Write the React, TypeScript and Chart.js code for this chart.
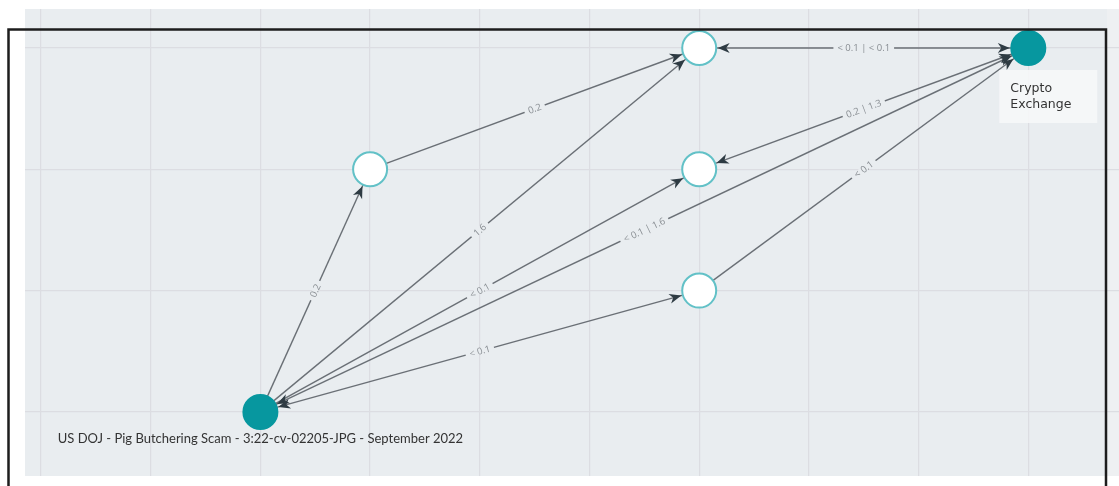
import React, { useEffect, useRef } from "react";
import { Chart, registerables } from "chart.js";

Chart.register(...registerables);

// ---- data ----
const nodeNames = [
  "US DOJ - Pig Butchering Scam - 3:22-cv-02205-JPG - September 2022",
  "",
  "",
  "",
  "",
  "Crypto Exchange",
];
const nodeCol = [2, 3, 6, 6, 6, 9];
const nodeRow = [3, 1, 0, 1, 2, 0];
const nodeFilled = [true, false, false, false, false, true];

const edgeFrom = [0, 1, 0, 0, 0, 0, 2, 5, 4];
const edgeTo = [1, 2, 2, 3, 5, 4, 5, 3, 5];
const edgeLabels = ["0.2", "0.2", "1.6", "< 0.1", "< 0.1 | 1.6", "< 0.1", "< 0.1 | < 0.1", "0.2 | 1.3", "< 0.1"];
const arrowAtFrom = [false, false, false, false, true, true, true, true, false];
const arrowAtTo = [true, true, true, true, true, true, true, true, true];

const gridCols = [0, 1, 2, 3, 4, 5, 6, 7, 8, 9];
const gridRows = [0, 1, 2, 3];

const W = 1119;
const H = 486;
const BG = "#e9edf0";
const TEAL = "#07979f";
const NODE_R = 17;

function drawArrow(ctx: CanvasRenderingContext2D, x: number, y: number, ang: number) {
  ctx.save();
  ctx.translate(x, y);
  ctx.rotate(ang);
  ctx.beginPath();
  ctx.moveTo(0, 0);
  ctx.lineTo(-12, -5);
  ctx.lineTo(-8.5, 0);
  ctx.lineTo(-12, 5);
  ctx.closePath();
  ctx.fillStyle = "#2e3b43";
  ctx.fill();
  ctx.restore();
}

const overlayPlugin = {
  id: "overlay",
  beforeDraw(chart: any) {
    const ctx = chart.ctx as CanvasRenderingContext2D;
    ctx.save();
    ctx.fillStyle = "#ffffff";
    ctx.fillRect(0, 0, W, H);
    ctx.fillStyle = BG;
    ctx.fillRect(25, 9, W - 25, 467);
    ctx.fillStyle = "#eef0f2";
    ctx.fillRect(1107, 9, W - 1107, 467);
    ctx.restore();
  },
  afterDatasetsDraw(chart: any) {
    const ctx = chart.ctx as CanvasRenderingContext2D;
    const xs = chart.scales.x;
    const ys = chart.scales.y;
    const px = (i: number) => xs.getPixelForValue(nodeCol[i]);
    const py = (i: number) => ys.getPixelForValue(nodeRow[i]);
    ctx.save();
    // edge labels
    ctx.font = "9.5px 'Open Sans'";
    ctx.textAlign = "center";
    ctx.textBaseline = "middle";
    for (let e = 0; e < edgeFrom.length; e++) {
      const x1 = px(edgeFrom[e]), y1 = py(edgeFrom[e]);
      const x2 = px(edgeTo[e]), y2 = py(edgeTo[e]);
      const mx = (x1 + x2) / 2, my = (y1 + y2) / 2;
      let a = Math.atan2(y2 - y1, x2 - x1);
      if (a > Math.PI / 2) a -= Math.PI;
      if (a < -Math.PI / 2) a += Math.PI;
      ctx.save();
      ctx.translate(mx, my);
      ctx.rotate(a);
      const w = ctx.measureText(edgeLabels[e]).width;
      ctx.fillStyle = BG;
      ctx.fillRect(-w / 2 - 4, -3, w + 8, 6);
      ctx.fillStyle = "#878c91";
      ctx.fillText(edgeLabels[e], 0, 0.5);
      ctx.restore();
    }
    // arrows
    const rr = NODE_R + 1.5;
    for (let e = 0; e < edgeFrom.length; e++) {
      const x1 = px(edgeFrom[e]), y1 = py(edgeFrom[e]);
      const x2 = px(edgeTo[e]), y2 = py(edgeTo[e]);
      const a = Math.atan2(y2 - y1, x2 - x1);
      if (arrowAtTo[e]) {
        drawArrow(ctx, x2 - Math.cos(a) * rr, y2 - Math.sin(a) * rr, a);
      }
      if (arrowAtFrom[e]) {
        drawArrow(ctx, x1 + Math.cos(a) * rr, y1 + Math.sin(a) * rr, a + Math.PI);
      }
    }
    // node labels
    const s = px(0), sy = py(0);
    ctx.font = "13px Lato";
    ctx.fillStyle = "#333333";
    ctx.textAlign = "center";
    ctx.textBaseline = "middle";
    ctx.fillText(nodeNames[0], s, sy + 27);

    const cx = px(5), cy = py(5);
    ctx.fillStyle = "rgba(246,247,248,0.9)";
    ctx.fillRect(cx - 29, cy + 22, 98, 53);
    ctx.fillStyle = "#333333";
    ctx.font = "12.5px 'DejaVu Sans'";
    ctx.textAlign = "left";
    const parts = nodeNames[5].split(" ");
    ctx.fillText(parts[0], cx - 18, cy + 41);
    ctx.fillText(parts[1], cx - 18, cy + 57);

    // frame
    ctx.strokeStyle = "#1d1d1d";
    ctx.lineWidth = 2.5;
    ctx.beginPath();
    ctx.moveTo(8.5, H + 5);
    ctx.lineTo(8.5, 29.5);
    ctx.lineTo(1106, 29.5);
    ctx.lineTo(1106, H + 5);
    ctx.stroke();
    ctx.restore();
  },
};

export default function App() {
  const ref = useRef<HTMLCanvasElement | null>(null);
  useEffect(() => {
    if (!ref.current) return;
    const edgeSets = edgeFrom.map((f, e) => ({
      type: "line" as const,
      data: [
        { x: nodeCol[f], y: nodeRow[f] },
        { x: nodeCol[edgeTo[e]], y: nodeRow[edgeTo[e]] },
      ],
      borderColor: "rgba(92,98,104,0.9)",
      borderWidth: 1.4,
      pointRadius: 0,
      showLine: true,
      fill: false,
      order: 2,
    }));
    const nodeSet = {
      type: "scatter" as const,
      data: nodeCol.map((c, i) => ({ x: c, y: nodeRow[i] })),
      pointRadius: NODE_R,
      pointBackgroundColor: nodeFilled.map((f) => (f ? TEAL : "#ffffff")),
      pointBorderColor: nodeFilled.map((f) => (f ? TEAL : "#62c1c7")),
      pointBorderWidth: 2,
      order: 0,
    };
    const chart = new Chart(ref.current, {
      type: "scatter",
      data: { datasets: [nodeSet as any, ...edgeSets] },
      options: {
        animation: false,
        responsive: false,
        devicePixelRatio: 1,
        layout: { autoPadding: false, padding: { left: 25, right: 0, top: 9, bottom: 10 } },
        plugins: { legend: { display: false }, tooltip: { enabled: false } },
        scales: {
          x: {
            type: "linear",
            min: -16 / 109.7,
            max: (W - 41) / 109.7,
            ticks: { display: false },
            border: { display: false },
            grid: { color: "#dcdde2", lineWidth: 1.2, drawTicks: false },
            afterBuildTicks: (sc: any) => {
              sc.ticks = gridCols.map((v) => ({ value: v }));
            },
          },
          y: {
            type: "linear",
            reverse: true,
            min: -39 / 121.3,
            max: (476 - 48) / 121.3,
            ticks: { display: false },
            border: { display: false },
            grid: { color: "#dcdde2", lineWidth: 1.2, drawTicks: false },
            afterBuildTicks: (sc: any) => {
              sc.ticks = gridRows.map((v) => ({ value: v }));
            },
          },
        },
      },
      plugins: [overlayPlugin],
    });
    return () => chart.destroy();
  }, []);
  return (
    <div style={{ position: "absolute", left: 0, top: 0, width: W, height: H }}>
      <canvas ref={ref} width={W} height={H} style={{ display: "block" }} />
    </div>
  );
}
